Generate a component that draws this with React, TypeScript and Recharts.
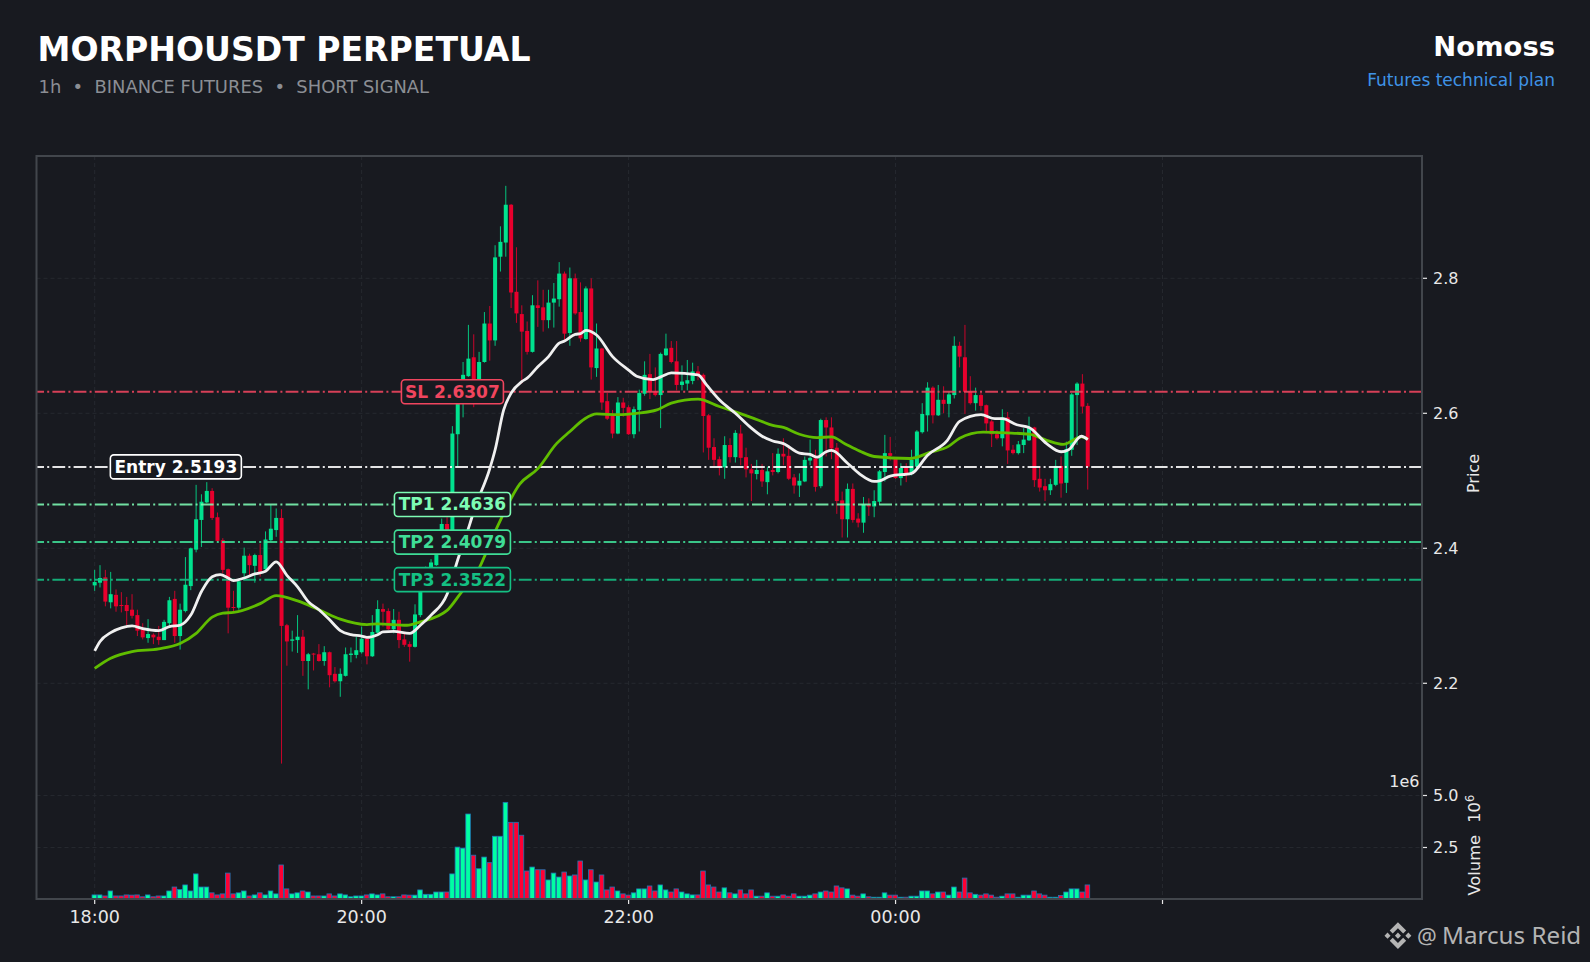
import React from "react";
import { ComposedChart, Bar, Line, XAxis, YAxis, CartesianGrid, ReferenceLine, ReferenceDot } from "recharts";

const opens = [2.345,2.349,2.357,2.320,2.331,2.316,2.316,2.309,2.301,2.280,
2.267,2.272,2.269,2.264,2.289,2.325,2.270,2.307,2.344,2.398,
2.442,2.468,2.485,2.446,2.412,2.369,2.313,2.312,2.363,2.389,
2.374,2.390,2.369,2.412,2.427,2.445,2.286,2.263,2.264,2.269,
2.233,2.244,2.243,2.233,2.246,2.214,2.203,2.211,2.242,2.242,
2.246,2.266,2.240,2.275,2.310,2.307,2.280,2.294,2.265,2.258,
2.254,2.301,2.348,2.371,2.375,2.395,2.436,2.405,2.569,2.620,
2.655,2.683,2.644,2.676,2.733,2.708,2.832,2.853,2.909,2.780,
2.747,2.722,2.691,2.760,2.757,2.738,2.764,2.769,2.807,2.719,
2.800,2.750,2.710,2.785,2.667,2.696,2.618,2.596,2.570,2.616,
2.609,2.569,2.605,2.629,2.658,2.632,2.627,2.686,2.697,2.677,
2.642,2.644,2.648,2.662,2.657,2.597,2.550,2.532,2.520,2.553,
2.535,2.570,2.535,2.517,2.510,2.516,2.498,2.516,2.513,2.540,
2.537,2.505,2.493,2.499,2.530,2.533,2.492,2.590,2.579,2.549,
2.471,2.443,2.488,2.444,2.438,2.464,2.462,2.469,2.513,2.541,
2.533,2.504,2.521,2.511,2.521,2.572,2.597,2.638,2.597,2.620,
2.614,2.627,2.700,2.683,2.632,2.615,2.627,2.612,2.588,2.569,
2.563,2.594,2.546,2.541,2.553,2.560,2.579,2.503,2.492,2.486,
2.494,2.522,2.497,2.546,2.627,2.644,2.611];

const closes = [2.350,2.356,2.321,2.332,2.314,2.315,2.307,2.300,2.278,2.268,
2.273,2.268,2.264,2.291,2.323,2.270,2.309,2.346,2.400,2.443,
2.469,2.485,2.445,2.411,2.368,2.312,2.312,2.351,2.389,2.375,
2.390,2.364,2.413,2.429,2.445,2.285,2.262,2.265,2.269,2.233,
2.243,2.243,2.233,2.246,2.212,2.203,2.214,2.243,2.244,2.249,
2.266,2.240,2.276,2.310,2.306,2.280,2.294,2.264,2.257,2.254,
2.302,2.345,2.371,2.379,2.390,2.436,2.405,2.570,2.615,2.657,
2.681,2.644,2.676,2.733,2.708,2.831,2.854,2.909,2.779,2.748,
2.721,2.691,2.760,2.756,2.738,2.764,2.770,2.807,2.718,2.800,
2.748,2.711,2.785,2.668,2.696,2.616,2.592,2.570,2.616,2.608,
2.569,2.606,2.630,2.657,2.632,2.627,2.688,2.696,2.676,2.642,
2.647,2.649,2.662,2.657,2.596,2.549,2.531,2.520,2.553,2.535,
2.571,2.534,2.517,2.511,2.516,2.499,2.514,2.513,2.540,2.536,
2.503,2.493,2.500,2.531,2.534,2.491,2.590,2.579,2.548,2.470,
2.443,2.488,2.442,2.438,2.465,2.462,2.470,2.514,2.541,2.537,
2.504,2.519,2.511,2.531,2.573,2.599,2.638,2.597,2.620,2.614,
2.628,2.700,2.684,2.632,2.615,2.627,2.611,2.585,2.569,2.563,
2.594,2.545,2.541,2.554,2.561,2.579,2.501,2.490,2.486,2.495,
2.522,2.496,2.547,2.628,2.644,2.610,2.521];

const highs = [2.368,2.375,2.368,2.365,2.339,2.335,2.328,2.332,2.309,2.289,
2.295,2.274,2.285,2.294,2.328,2.337,2.318,2.387,2.401,2.494,
2.480,2.498,2.489,2.453,2.415,2.370,2.337,2.353,2.401,2.392,
2.392,2.407,2.425,2.464,2.459,2.458,2.288,2.278,2.301,2.279,
2.245,2.245,2.258,2.255,2.247,2.224,2.222,2.253,2.253,2.269,
2.284,2.270,2.301,2.323,2.318,2.311,2.310,2.306,2.276,2.262,
2.317,2.350,2.373,2.384,2.392,2.444,2.446,2.581,2.625,2.676,
2.731,2.717,2.691,2.750,2.759,2.849,2.877,2.937,2.910,2.846,
2.760,2.736,2.775,2.797,2.783,2.783,2.793,2.824,2.810,2.816,
2.807,2.794,2.788,2.800,2.733,2.697,2.630,2.605,2.624,2.623,
2.612,2.610,2.635,2.677,2.688,2.668,2.690,2.718,2.707,2.707,
2.671,2.679,2.675,2.670,2.659,2.599,2.563,2.536,2.566,2.563,
2.575,2.583,2.549,2.525,2.531,2.525,2.521,2.541,2.548,2.563,
2.549,2.510,2.511,2.536,2.561,2.546,2.592,2.594,2.594,2.556,
2.484,2.496,2.496,2.452,2.476,2.474,2.486,2.516,2.568,2.565,
2.535,2.526,2.526,2.546,2.575,2.615,2.646,2.640,2.642,2.640,
2.632,2.714,2.706,2.731,2.655,2.638,2.630,2.613,2.590,2.575,
2.606,2.602,2.553,2.559,2.578,2.595,2.580,2.521,2.503,2.503,
2.531,2.536,2.558,2.630,2.646,2.658,2.615];

const lows = [2.337,2.342,2.314,2.311,2.306,2.305,2.286,2.296,2.270,2.265,
2.260,2.258,2.257,2.264,2.285,2.260,2.250,2.305,2.338,2.394,
2.402,2.467,2.442,2.410,2.363,2.274,2.306,2.309,2.358,2.360,
2.349,2.358,2.368,2.410,2.417,2.081,2.226,2.247,2.245,2.211,
2.191,2.219,2.232,2.226,2.194,2.201,2.180,2.210,2.231,2.237,
2.244,2.228,2.239,2.274,2.284,2.279,2.274,2.252,2.254,2.232,
2.253,2.298,2.346,2.370,2.374,2.390,2.400,2.400,2.521,2.594,
2.654,2.609,2.639,2.675,2.678,2.700,2.810,2.832,2.756,2.734,
2.644,2.687,2.690,2.728,2.721,2.726,2.727,2.758,2.709,2.700,
2.746,2.706,2.709,2.650,2.654,2.605,2.590,2.563,2.569,2.595,
2.568,2.563,2.573,2.626,2.621,2.625,2.578,2.685,2.674,2.634,
2.634,2.634,2.643,2.649,2.542,2.531,2.522,2.508,2.503,2.527,
2.527,2.523,2.505,2.470,2.502,2.491,2.480,2.508,2.511,2.523,
2.501,2.481,2.476,2.498,2.523,2.484,2.489,2.536,2.532,2.451,
2.416,2.416,2.438,2.431,2.423,2.448,2.446,2.464,2.499,2.530,
2.503,2.493,2.498,2.508,2.516,2.570,2.573,2.585,2.596,2.600,
2.594,2.622,2.668,2.599,2.613,2.604,2.604,2.573,2.550,2.561,
2.551,2.525,2.539,2.539,2.541,2.559,2.491,2.484,2.470,2.479,
2.492,2.475,2.482,2.537,2.553,2.600,2.487];

// volume, in units of 1e6
const volumes = [.22,.22,.17,.41,.17,.17,.22,.21,.22,.13,
.22,.13,.17,.17,.41,.60,.48,.70,.41,1.23,
.60,.60,.32,.22,.27,1.27,.27,.32,.41,.17,
.22,.32,.22,.41,.27,1.66,.51,.27,.32,.41,
.36,.17,.17,.17,.27,.17,.27,.22,.13,.17,
.17,.22,.27,.22,.27,.13,.13,.13,.22,.21,
.21,.46,.25,.25,.36,.36,.36,1.23,2.52,2.47,
4.11,2.13,1.48,2.04,1.77,3.04,3.04,4.67,3.71,3.71,
3.09,1.37,1.56,1.43,1.43,.94,1.27,1.08,1.32,1.13,
1.18,1.85,.94,1.43,.84,1.18,.46,.60,.41,.27,
.21,.32,.51,.51,.65,.41,.70,.46,.36,.51,
.36,.27,.22,.22,1.37,.70,.60,.36,.56,.32,
.27,.46,.27,.46,.16,.16,.32,.16,.16,.22,
.16,.27,.16,.16,.21,.27,.36,.41,.36,.65,
.56,.51,.21,.16,.27,.13,.11,.11,.32,.21,
.21,.11,.11,.16,.16,.41,.41,.27,.36,.36,
.21,.60,.36,1.03,.32,.25,.21,.27,.21,.11,
.16,.27,.27,.11,.21,.21,.41,.27,.21,.11,
.11,.19,.36,.51,.51,.36,.70];

const fastIdx = [0,1,3,5,7,9,12,14,16,18,20,22,23.5,25,26,28,30,32,34,36,38,40,42,44,46,48,50,51,53,54,56,59,61,63,66,68,70.3,71,74,75,76.6,78,80,81,83,85,87,88,90,91,92,94,97,100,101.5,104.6,106,108,113,114.6,117,120,123,125,127,129,132,134,135.3,137,138,141,143.3,146,147,149,153,156,159.7,162,166,168.6,170,172.7,175,178.3,181,182.4,184.8,186];
const fastVal = [2.248,2.262,2.275,2.282,2.285,2.281,2.278,2.284,2.286,2.301,2.336,2.358,2.361,2.356,2.352,2.356,2.362,2.366,2.380,2.360,2.343,2.321,2.309,2.294,2.278,2.272,2.270,2.268,2.272,2.276,2.277,2.274,2.286,2.301,2.332,2.383,2.437,2.455,2.518,2.546,2.605,2.630,2.647,2.652,2.669,2.684,2.704,2.707,2.717,2.718,2.723,2.716,2.684,2.664,2.655,2.650,2.654,2.660,2.657,2.642,2.620,2.600,2.578,2.566,2.559,2.555,2.541,2.539,2.535,2.543,2.545,2.526,2.510,2.499,2.500,2.507,2.511,2.538,2.560,2.588,2.598,2.592,2.592,2.583,2.579,2.555,2.543,2.546,2.566,2.561];

const slowIdx = [0,3,7,12,16,19,22,24,26,31,34,38,42,46,51,53,58.5,61,66,68.6,71.5,75.3,79.6,83,86.5,89,91.8,94,98,101.5,105.3,108,113,117,120,124.6,127,129,132,135.3,138,140.5,143.3,146,152.7,156.4,159.9,162,166.4,170.8,175,178.3,181.4,184.8,186];
const slowVal = [2.222,2.237,2.247,2.251,2.259,2.274,2.298,2.304,2.305,2.318,2.330,2.322,2.309,2.295,2.287,2.288,2.286,2.291,2.308,2.334,2.363,2.430,2.495,2.518,2.555,2.573,2.592,2.599,2.598,2.600,2.605,2.615,2.621,2.610,2.602,2.589,2.582,2.579,2.569,2.564,2.565,2.555,2.544,2.536,2.533,2.542,2.551,2.563,2.572,2.571,2.569,2.560,2.554,2.565,2.562];

const tickIdx = [0, 50, 100, 150, 200];
const tickNames = ["18:00", "20:00", "22:00", "00:00", ""];
const priceTicks = [2.2, 2.4, 2.6, 2.8];
const volumeTicks = [2.5, 5];

const levelNames = ["SL 2.6307", "Entry 2.5193", "TP1 2.4636", "TP2 2.4079", "TP3 2.3522"];
const levelValues = [2.632, 2.5206, 2.4649, 2.4092, 2.3535];
const levelColors = ["#f0455e", "#ffffff", "#7dfcb4", "#3fdd96", "#14c083"];
const levelAnchor = [67, 15.2, 67, 67, 67];
const levelWidths = [102, 131, 116, 116, 116];

const rows = opens.map((o, i) => ({ i, o, c: closes[i], h: highs[i], l: lows[i], v: volumes[i] }));
const fastRows = fastIdx.map((i, k) => ({ i, v: fastVal[k] }));
const slowRows = slowIdx.map((i, k) => ({ i, v: slowVal[k] }));

const BG = "#181a20";
const UP = "#00e28e";
const DOWN = "#e8002d";
const FONT = "'DejaVu Sans', sans-serif";

function Candle(props: any) {
  const { x, y, width, height, payload } = props;
  const { o, c, h, l } = payload;
  const k = height / (h - l);
  const top = y + (h - Math.max(o, c)) * k;
  const bot = y + (h - Math.min(o, c)) * k;
  const color = c >= o ? UP : DOWN;
  const cx = x + width / 2;
  return (
    <g>
      <line x1={cx} x2={cx} y1={y} y2={y + height} stroke={color} strokeWidth={1} strokeOpacity={0.85} />
      <rect x={cx - 2} y={top} width={4} height={Math.max(bot - top, 1)} fill={color} />
    </g>
  );
}

function VolumeBar(props: any) {
  const { x, y, width, height, payload } = props;
  return (
    <rect
      x={x}
      y={y}
      width={width}
      height={height}
      fill={payload.c >= payload.o ? "#00ffa3" : "#ff0033"}
      stroke="#1f77b4"
      strokeWidth={0.8}
    />
  );
}

function levelLabel(k: number) {
  return function LevelLabel(props: any) {
    const { cx, cy } = props;
    const w = levelWidths[k];
    const h = 24;
    return (
      <g>
        <rect x={cx - w / 2} y={cy - h / 2} width={w} height={h} rx={3.5} fill={BG} stroke={levelColors[k]} strokeWidth={1.6} />
        <text x={cx} y={cy + 6} textAnchor="middle" fontFamily={FONT} fontWeight="bold" fontSize={17} fill={levelColors[k]}>
          {levelNames[k]}
        </text>
      </g>
    );
  };
}

const tickStyle = { fontFamily: FONT, fontSize: 16, fill: "#e8e8e8" };

export default function App() {
  return (
    <div style={{ position: "absolute", left: 0, top: 0, width: 1590, height: 962, background: BG, overflow: "hidden" }}>
      <ComposedChart
        width={1590}
        height={962}
        data={rows}
        margin={{ top: 156, left: 36.5, right: 0, bottom: 0 }}
      >
        <XAxis
          xAxisId="px"
          dataKey="i"
          type="number"
          domain={[-10.9, 248.6]}
          ticks={tickIdx}
          interval={0}
          allowDataOverflow
          height={63}
          tickSize={5}
          tickLine={{ stroke: "#e8e8e8", strokeWidth: 1.2 }}
          axisLine={false}
          tick={{ ...tickStyle, fontSize: 17.5 }}
          tickMargin={7}
          tickFormatter={(v: number) => tickNames[tickIdx.indexOf(v)] ?? ""}
        />
        <XAxis xAxisId="vol" dataKey="i" type="number" domain={[-10.9, 248.6]} ticks={tickIdx} allowDataOverflow hide height={0} />
        <YAxis
          yAxisId="px"
          orientation="right"
          width={0.01}
          type="number"
          domain={[1.8804, 2.9812]}
          ticks={priceTicks}
          interval={0}
          allowDataOverflow
          tickSize={5}
          tickLine={{ stroke: "#e8e8e8", strokeWidth: 1.2 }}
          axisLine={false}
          tick={{ ...tickStyle, textAnchor: "start" }}
          tickMargin={6}
          tickFormatter={(v: number) => v.toFixed(1)}
        />
        <YAxis
          yAxisId="vol"
          orientation="right"
          width={167.99}
          type="number"
          domain={[0.024, 35.74]}
          ticks={volumeTicks}
          interval={0}
          allowDataOverflow
          tickSize={5}
          tickLine={{ stroke: "#e8e8e8", strokeWidth: 1.2 }}
          axisLine={false}
          tick={{ ...tickStyle, textAnchor: "start" }}
          tickMargin={6}
          tickFormatter={(v: number) => v.toFixed(1)}
        />
        <CartesianGrid xAxisId="px" yAxisId="px" stroke="#26292f" strokeDasharray="4 3" strokeWidth={1} />
        <CartesianGrid xAxisId="px" yAxisId="vol" stroke="#26292f" strokeDasharray="4 3" strokeWidth={1} vertical={false} />

        <Bar xAxisId="vol" yAxisId="vol" dataKey="v" barSize={4.6} shape={VolumeBar} isAnimationActive={false} />
        <Bar xAxisId="px" yAxisId="px" dataKey={(d: any) => [d.l, d.h]} barSize={5} shape={Candle} isAnimationActive={false} />

        {levelValues.map((v, k) => (
          <ReferenceLine
            key={levelNames[k]}
            xAxisId="px"
            yAxisId="px"
            y={v}
            stroke={levelColors[k]}
            strokeOpacity={0.88}
            strokeWidth={2}
            strokeDasharray="12.8 3.2 2 3.2"
          />
        ))}

        <Line xAxisId="px" yAxisId="px" type="monotone" data={slowRows} dataKey="v" stroke="#60bd00" strokeWidth={2.8} dot={false} activeDot={false} isAnimationActive={false} />
        <Line xAxisId="px" yAxisId="px" type="monotone" data={fastRows} dataKey="v" stroke="#f0f0f0" strokeWidth={2.8} dot={false} activeDot={false} isAnimationActive={false} />

        {levelValues.map((v, k) => (
          <ReferenceDot
            key={"label" + k}
            xAxisId="px"
            yAxisId="px"
            x={levelAnchor[k]}
            y={v}
            r={1}
            shape={levelLabel(k)}
          />
        ))}
      </ComposedChart>

      <svg width={1590} height={962} style={{ position: "absolute", left: 0, top: 0, pointerEvents: "none" }}>
        <rect x={36.5} y={156} width={1385.5} height={743} fill="none" stroke="#42464c" strokeWidth={2} />
        <text x={37.5} y={61} fontFamily={FONT} fontWeight="bold" fontSize={33.1} fill="#ffffff">MORPHOUSDT PERPETUAL</text>
        <text x={38.5} y={92.5} fontFamily={FONT} fontSize={17.9} fill="#8b8e94" xmlSpace="preserve">{"1h  •  BINANCE FUTURES  •  SHORT SIGNAL"}</text>
        <text x={1555} y={55.5} textAnchor="end" fontFamily={FONT} fontWeight="bold" fontSize={27.4} fill="#ffffff">Nomoss</text>
        <text x={1555} y={86} textAnchor="end" fontFamily={FONT} fontSize={17} fill="#3f93e6">Futures technical plan</text>
        <text x={1419.5} y={787} textAnchor="end" fontFamily={FONT} fontSize={16} fill="#e8e8e8">1e6</text>
        <text transform="translate(1479,473.5) rotate(-90)" textAnchor="middle" fontFamily={FONT} fontSize={16} fill="#e8e8e8">Price</text>
        <text transform="translate(1480,895.5) rotate(-90)" fontFamily={FONT} fontSize={16.3} fill="#e8e8e8">
          Volume{"  "}
          <tspan dx="7">10</tspan>
          <tspan dy="-6" fontSize={11.5}>6</tspan>
        </text>
        <g transform="translate(1384.5,922.2) scale(0.84)" fill="#b4b4b4">
          <path d="M9.8 13.4 16 7.2l6.2 6.2 3.6-3.6L16 0 6.2 9.8zM0 16l3.6-3.6L7.2 16l-3.6 3.6zM9.8 18.6 16 24.8l6.2-6.2 3.6 3.6L16 32l-9.8-9.8zM24.8 16l3.6-3.6L32 16l-3.6 3.6zM19.6 16 16 12.4 12.4 16l3.6 3.6z" />
        </g>
        <text x={1417} y={944} fontFamily="'Noto Sans', sans-serif" fontSize={22} fill="#b4b4b4">@</text>
        <text x={1442} y={944} fontFamily="'Noto Sans', sans-serif" fontSize={24.2} fill="#b4b4b4">Marcus Reid</text>
      </svg>
    </div>
  );
}
